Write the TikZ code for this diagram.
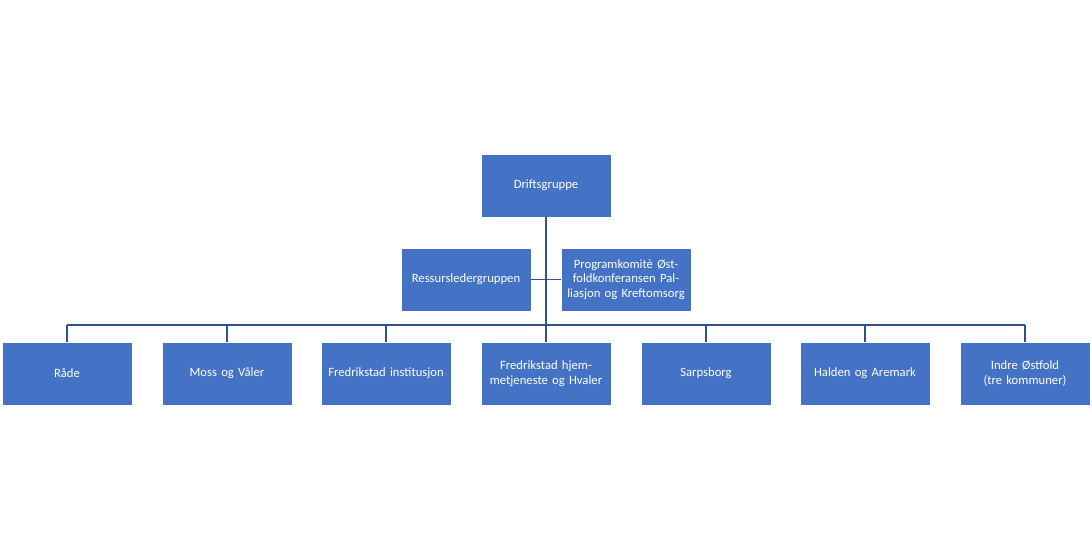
\documentclass[tikz,border=0pt]{standalone}
\usepackage{fontspec}
\setmainfont{Carlito}
\begin{document}
\begin{tikzpicture}[x=0.75pt,y=-0.75pt,
  box/.style={draw=white,line width=0.6pt,fill={rgb,255:red,68;green,114;blue,196},text=white,
    minimum width=97.5pt,minimum height=47.25pt,text width=92pt,align=center,inner sep=1pt,
    font=\fontsize{9.5pt}{11pt}\selectfont},
  ln/.style={draw={rgb,255:red,47;green,82;blue,143},line width=1.3pt}]
\useasboundingbox (0,0) rectangle (1092,560);
\node[box] (top) at (546,185.5) {Driftsgruppe};
\node[box] (res) at (466,279.5) {Ressursledergruppen};
\node[box] (prog) at (626,279.5) {Programkomitè Østfoldkonferansen Palliasjon og Kreftomsorg};
\coordinate (j) at (546,325);
\coordinate (a) at (546,279.5);
\path[ln] (top.south) -- (j);
\path[ln] (res.east) -- (prog.west);
\foreach \n/\x/\t in {b1/67/Råde,b2/227/Moss og Våler,b3/386/Fredrikstad institusjon,b4/546/Fredrikstad hjemmetjeneste og Hvaler,b5/706/Sarpsborg,b6/865/Halden og Aremark,b7/1025/Indre Østfold (tre kommuner)}{
  \node[box] (\n) at (\x,373.5) {\t};
  \coordinate (c\n) at (\x,325);
  \path[ln] (c\n) -- (\n.north);
}
\path[ln] (cb1) -- (cb7);
\end{tikzpicture}
\end{document}
